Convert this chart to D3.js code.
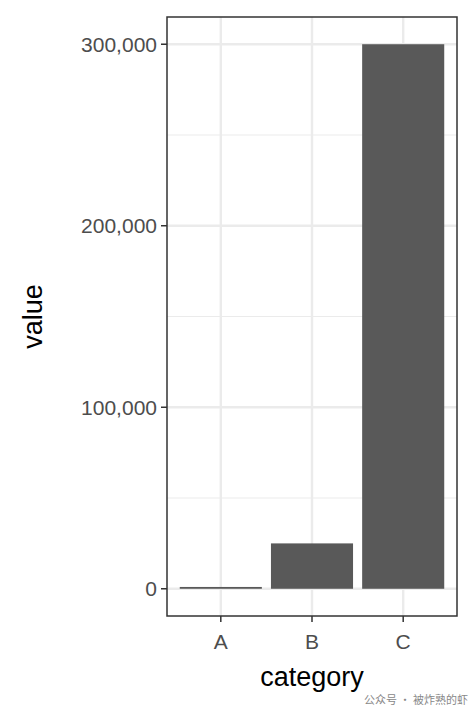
<!DOCTYPE html>
<html><head><meta charset="utf-8">
<script src="https://cdn.jsdelivr.net/npm/d3@7"></script>
<style>body{margin:0;background:#fff}</style></head>
<body><svg id="c" width="474" height="711"></svg>
<script>
const categories = ["A","B","C"];
const values = [1000, 25000, 300000];
const yTicks = [0, 100000, 200000, 300000];
const yMinor = [50000, 150000, 250000];

const svg = d3.select("#c");
const L=167,R=457,T=17,B=616;
const y = d3.scaleLinear().domain([-15000,315000]).range([B,T]);
const x = d3.scaleLinear().domain([0.41,3.59]).range([L,R]);
const font="Liberation Sans, Arial, sans-serif";
const g = svg.append("g");
yMinor.forEach(v=>g.append("line").attr("x1",L).attr("x2",R).attr("y1",y(v)).attr("y2",y(v)).attr("stroke","#ebebeb").attr("stroke-width",1.2));
yTicks.forEach(v=>g.append("line").attr("x1",L).attr("x2",R).attr("y1",y(v)).attr("y2",y(v)).attr("stroke","#ebebeb").attr("stroke-width",2.4));
categories.forEach((c,i)=>g.append("line").attr("x1",x(i+1)).attr("x2",x(i+1)).attr("y1",T).attr("y2",B).attr("stroke","#ebebeb").attr("stroke-width",2.4));
categories.forEach((c,i)=>g.append("rect").attr("x",x(i+1-0.45)).attr("width",x(i+1.45)-x(i+0.55))
  .attr("y",y(values[i])).attr("height",y(0)-y(values[i])).attr("fill","#595959"));
g.append("rect").attr("x",L).attr("y",T).attr("width",R-L).attr("height",B-T).attr("fill","none").attr("stroke","#333").attr("stroke-width",1.5);
const fmt=d3.format(",");
yTicks.forEach(v=>{
  g.append("line").attr("x1",L-6).attr("x2",L).attr("y1",y(v)).attr("y2",y(v)).attr("stroke","#333").attr("stroke-width",1.5);
  g.append("text").attr("x",L-10).attr("y",y(v)).attr("dy","0.36em").attr("text-anchor","end").attr("font-family",font).attr("font-size",21).attr("fill","#4d4d4d").text(fmt(v));
});
categories.forEach((c,i)=>{
  g.append("line").attr("x1",x(i+1)).attr("x2",x(i+1)).attr("y1",B).attr("y2",B+6).attr("stroke","#333").attr("stroke-width",1.5);
  g.append("text").attr("x",x(i+1)).attr("y",B+33).attr("text-anchor","middle").attr("font-family",font).attr("font-size",21).attr("fill","#4d4d4d").text(c);
});
g.append("text").attr("x",(L+R)/2).attr("y",686).attr("text-anchor","middle").attr("font-family",font).attr("font-size",27).attr("fill","#000").text("category");
g.append("text").attr("transform",`translate(42,${(T+B)/2}) rotate(-90)`).attr("text-anchor","middle").attr("font-family",font).attr("font-size",27).attr("fill","#000").text("value");
g.append("text").attr("x",468).attr("y",704).attr("text-anchor","end").attr("font-family","Noto Sans CJK SC").attr("font-size",11).attr("fill","#888").text("公众号 · 被炸熟的虾");
</script></body></html>
